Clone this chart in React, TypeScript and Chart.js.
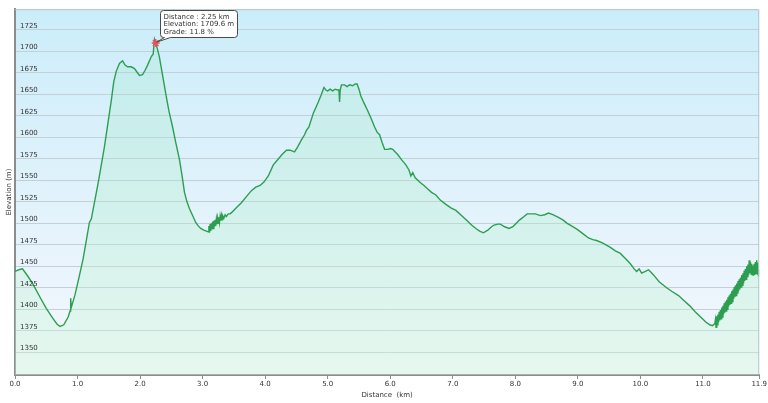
import React, { useEffect, useRef } from 'react';
import { Chart, registerables } from 'chart.js';

Chart.register(...registerables);

// Distance along the route (km)
const distances = [
  0.0, 0.06, 0.12, 0.2, 0.29, 0.4, 0.5, 0.6, 0.67, 0.72, 0.78, 0.85, 0.88, 0.89, 0.9, 0.96,
  1.02, 1.09, 1.19, 1.22, 1.33, 1.43, 1.54, 1.58, 1.62, 1.67, 1.72, 1.76, 1.8, 1.86, 1.91, 1.95,
  1.99, 2.04, 2.08, 2.12, 2.18, 2.21, 2.23, 2.25, 2.28, 2.31, 2.36, 2.41, 2.46, 2.52, 2.57, 2.63,
  2.67, 2.71, 2.75, 2.79, 2.84, 2.89, 2.93, 2.97, 3.02, 3.06,
  3.09, 3.1, 3.11, 3.12, 3.13, 3.14, 3.15, 3.16, 3.17, 3.18, 3.19, 3.2, 3.21, 3.22, 3.23, 3.24,
  3.25, 3.26, 3.27, 3.28, 3.29, 3.3, 3.31, 3.32, 3.34, 3.36, 3.38, 3.41, 3.44,
  3.47, 3.55, 3.62, 3.7, 3.78, 3.85,
  3.92, 3.98, 4.05, 4.13, 4.2, 4.27, 4.34, 4.4, 4.47, 4.52, 4.58, 4.63, 4.66, 4.7, 4.77, 4.85,
  4.9, 4.94, 4.97, 5.0, 5.04, 5.08, 5.12, 5.16, 5.18, 5.19, 5.2, 5.22, 5.27, 5.31, 5.35, 5.4,
  5.44, 5.47, 5.5, 5.53, 5.58, 5.64, 5.7, 5.75, 5.79, 5.83, 5.87, 5.91, 5.96, 6.0, 6.04, 6.08,
  6.12, 6.18, 6.25, 6.3, 6.33, 6.36, 6.4, 6.47, 6.54, 6.6, 6.66, 6.73, 6.8, 6.89, 6.97, 7.05,
  7.14, 7.23, 7.3, 7.37, 7.43, 7.49, 7.56, 7.62, 7.66, 7.72, 7.76, 7.83, 7.9, 7.96, 8.0, 8.07,
  8.14, 8.19, 8.24, 8.32, 8.4, 8.47, 8.53, 8.6, 8.69, 8.76, 8.83, 8.9, 8.99, 9.08, 9.17, 9.24,
  9.3, 9.4, 9.52, 9.6, 9.68, 9.76, 9.84, 9.9, 9.94, 9.98, 10.02, 10.08, 10.13, 10.17, 10.21, 10.3,
  10.42, 10.5, 10.61, 10.7, 10.79, 10.88, 10.98, 11.05, 11.11, 11.15, 11.19,
  11.2, 11.21, 11.22, 11.23, 11.24, 11.25, 11.26, 11.27, 11.28, 11.29, 11.3, 11.31, 11.32, 11.33, 11.34, 11.35,
  11.36, 11.37, 11.38, 11.39, 11.4, 11.41, 11.42, 11.43, 11.44, 11.45, 11.46, 11.47, 11.48, 11.49, 11.5, 11.51,
  11.52, 11.53, 11.54, 11.55, 11.56, 11.57, 11.58, 11.59, 11.6, 11.61, 11.62, 11.63, 11.64, 11.65, 11.66, 11.67,
  11.68, 11.69, 11.7, 11.71, 11.72, 11.73, 11.74, 11.75, 11.76, 11.77, 11.78, 11.79, 11.8, 11.81, 11.82, 11.83,
  11.84, 11.85, 11.86, 11.87, 11.88, 11.89, 11.9,
];

// Elevation (m)
const elevations = [
  1444, 1446, 1447, 1439, 1429, 1414, 1401, 1390, 1383, 1380, 1382, 1391, 1398, 1413, 1402, 1417,
  1436, 1459, 1501, 1505, 1547, 1589, 1643, 1665, 1677, 1686, 1689, 1684, 1682, 1682, 1680, 1676,
  1672, 1673, 1678, 1684, 1694, 1697, 1714, 1709.6, 1702, 1693, 1672, 1651, 1631, 1612, 1594, 1574,
  1556, 1536, 1525, 1517, 1509, 1501, 1497, 1494, 1492, 1491,
  1490, 1497, 1489, 1499, 1491, 1500, 1493, 1502, 1494, 1503, 1496, 1504, 1497, 1505, 1499, 1506,
  1500, 1507, 1501, 1508, 1503, 1509, 1504, 1509, 1506, 1510, 1508, 1511, 1511,
  1513, 1519, 1524, 1531, 1538, 1542,
  1544, 1548, 1555, 1568, 1574, 1580, 1585, 1585, 1583, 1589, 1597, 1603, 1608, 1612, 1628, 1641,
  1650, 1658, 1655, 1654, 1656, 1654, 1656, 1655, 1655, 1641, 1655, 1661, 1661, 1659, 1661, 1660,
  1662, 1662, 1656, 1648, 1640, 1631, 1621, 1612, 1606, 1603, 1594, 1586, 1586, 1587, 1586, 1583,
  1580, 1574, 1568, 1562, 1555, 1559, 1553, 1548, 1544, 1540, 1536, 1533, 1527, 1522, 1518, 1515,
  1509, 1503, 1498, 1494, 1491, 1489, 1492, 1496, 1498, 1499, 1499, 1496, 1494, 1496, 1499, 1504,
  1508, 1511, 1511, 1511, 1509, 1510, 1512, 1510, 1507, 1504, 1500, 1497, 1493, 1488, 1483, 1481,
  1480, 1477, 1472, 1468, 1465, 1459, 1453, 1447, 1444, 1447, 1442, 1444, 1446, 1443, 1440, 1432,
  1425, 1421, 1416, 1410, 1404, 1397, 1390, 1385, 1382, 1381, 1383,
  1388, 1379, 1392, 1382, 1394, 1385, 1397, 1387, 1399, 1389, 1402, 1391, 1404, 1394, 1407, 1396,
  1409, 1398, 1411, 1400, 1414, 1403, 1416, 1405, 1418, 1407, 1421, 1409, 1423, 1412, 1426, 1414,
  1428, 1416, 1430, 1419, 1433, 1421, 1435, 1423, 1437, 1426, 1440, 1428, 1442, 1430, 1445, 1433,
  1447, 1435, 1450, 1438, 1452, 1440, 1457, 1442, 1455, 1441, 1453, 1440, 1451, 1439, 1453, 1440,
  1455, 1442, 1457, 1441, 1454, 1438, 1446,
];

const xTickValues = [0, 1, 2, 3, 4, 5, 6, 7, 8, 9, 10, 11, 11.9];
const yTickValues = [1350, 1375, 1400, 1425, 1450, 1475, 1500, 1525, 1550, 1575, 1600, 1625, 1650, 1675, 1700, 1725];

const peakDistance = [2.25];
const peakElevation = [1709.6];
const tooltipLines = ['Distance : 2.25 km', 'Elevation: 1709.6 m', 'Grade: 11.8 %'];

const FONT = '"DejaVu Sans", Verdana, sans-serif';

const backgroundPlugin = {
  id: 'plotBackground',
  beforeDraw(chart: any) {
    const { ctx, chartArea } = chart;
    if (!chartArea) return;
    const { left, top, right, bottom } = chartArea;
    const g = ctx.createLinearGradient(0, top, 0, bottom);
    g.addColorStop(0, '#cbedfa');
    g.addColorStop(1, '#f6f7fd');
    ctx.save();
    ctx.fillStyle = g;
    ctx.fillRect(left, top, right - left, bottom - top);
    ctx.restore();
  },
  afterDraw(chart: any) {
    const { ctx, chartArea } = chart;
    const { left, top, right, bottom } = chartArea;
    ctx.save();
    ctx.strokeStyle = '#b4c6ce';
    ctx.lineWidth = 1;
    ctx.beginPath();
    ctx.moveTo(left, top + 0.5);
    ctx.lineTo(right - 0.5, top + 0.5);
    ctx.lineTo(right - 0.5, bottom);
    ctx.stroke();
    ctx.restore();
  },
};

const tooltipPlugin = {
  id: 'peakTooltip',
  afterDraw(chart: any) {
    const { ctx, scales } = chart;
    const px = scales.x.getPixelForValue(peakDistance[0]);
    const py = scales.y.getPixelForValue(peakElevation[0]);
    const bx = Math.round(px + 4) + 0.5;
    const by = Math.round(py - 33) + 0.5;
    const bw = 77;
    const bh = 27;
    const r = 3;
    ctx.save();
    ctx.beginPath();
    ctx.moveTo(bx + r, by);
    ctx.lineTo(bx + bw - r, by);
    ctx.quadraticCurveTo(bx + bw, by, bx + bw, by + r);
    ctx.lineTo(bx + bw, by + bh - r);
    ctx.quadraticCurveTo(bx + bw, by + bh, bx + bw - r, by + bh);
    ctx.lineTo(bx + 10, by + bh);
    ctx.lineTo(px + 1, py - 1);
    ctx.lineTo(bx + 4, by + bh);
    ctx.lineTo(bx + r, by + bh);
    ctx.quadraticCurveTo(bx, by + bh, bx, by + bh - r);
    ctx.lineTo(bx, by + r);
    ctx.quadraticCurveTo(bx, by, bx + r, by);
    ctx.closePath();
    ctx.fillStyle = '#ffffff';
    ctx.fill();
    ctx.strokeStyle = '#4a4a4a';
    ctx.lineWidth = 1;
    ctx.stroke();
    ctx.fillStyle = '#333333';
    ctx.font = '7px ' + FONT;
    ctx.textBaseline = 'middle';
    ctx.textAlign = 'left';
    tooltipLines.forEach((t, i) => {
      ctx.fillText(t, bx + 3, by + 6.5 + i * 7.4);
    });
    ctx.restore();
  },
};

export default function App() {
  const canvasRef = useRef<HTMLCanvasElement | null>(null);

  useEffect(() => {
    const canvas = canvasRef.current;
    if (!canvas) return;
    const points = distances.map((d, i) => ({ x: d, y: elevations[i] }));
    const peakPoints = peakDistance.map((d, i) => ({ x: d, y: peakElevation[i] }));

    const chart = new Chart(canvas, {
      type: 'line',
      data: {
        datasets: [
          {
            data: peakPoints,
            pointStyle: 'star',
            pointRadius: 4,
            pointBorderColor: '#ee4f5c',
            pointBorderWidth: 1.5,
            pointBackgroundColor: '#ee4f5c',
            showLine: false,
            fill: false,
          } as any,
          {
            data: points,
            borderColor: '#2c9e50',
            borderWidth: 1.4,
            pointRadius: 0,
            tension: 0,
            fill: 'start',
            backgroundColor: (c: any) => {
              const { chart: ch } = c;
              const area = ch.chartArea;
              if (!area) return 'rgba(140,230,170,0.2)';
              const g = ch.ctx.createLinearGradient(0, area.top, 0, area.bottom);
              g.addColorStop(0, 'rgba(130,225,175,0.16)');
              g.addColorStop(1, 'rgba(205,248,215,0.38)');
              return g;
            },
          },
        ],
      },
      options: {
        animation: false,
        responsive: false,
        events: [],
        layout: { padding: { top: 4, right: 5, left: 0, bottom: 0 } },
        plugins: {
          legend: { display: false },
          tooltip: { enabled: false },
          title: { display: false },
        },
        scales: {
          x: {
            type: 'linear',
            min: 0,
            max: 11.9,
            afterFit: (s: any) => { s.height = 28; },
            afterBuildTicks: (s: any) => { s.ticks = xTickValues.map((v) => ({ value: v })); },
            grid: { display: true, drawOnChartArea: false, drawTicks: true, tickLength: 4, color: '#8c8c8c' },
            border: { display: true, color: '#8c8c8c', width: 2 },
            ticks: {
              autoSkip: false,
              maxRotation: 0,
              padding: 1,
              color: '#333333',
              font: { family: FONT, size: 7 },
              callback: (v: any) => Number(v).toFixed(1),
            },
            title: {
              display: true,
              text: 'Distance  (km)',
              color: '#333333',
              font: { family: FONT, size: 7 },
              padding: { top: 0, bottom: 4 },
            },
          },
          y: {
            type: 'linear',
            min: 1323.6,
            max: 1749,
            afterFit: (s: any) => { s.width = 15; },
            afterBuildTicks: (s: any) => { s.ticks = yTickValues.map((v) => ({ value: v })); },
            grid: { color: '#c2d0d8', drawTicks: false, lineWidth: 1 },
            border: { display: true, color: '#8c8c8c', width: 2 },
            ticks: {
              z: 1,
              mirror: true,
              padding: 5,
              labelOffset: -4,
              color: '#333333',
              font: { family: FONT, size: 7 },
              callback: (v: any) => String(v),
            },
            title: {
              display: true,
              text: 'Elevation (m)',
              color: '#333333',
              font: { family: FONT, size: 7 },
              padding: { top: 5, bottom: 0 },
            },
          },
        },
      },
      plugins: [backgroundPlugin, tooltipPlugin],
    });

    return () => chart.destroy();
  }, []);

  return (
    <div style={{ position: 'fixed', left: 0, top: 0, width: 768, height: 403, background: '#ffffff' }}>
      <canvas ref={canvasRef} width={768} height={403} style={{ display: 'block', width: 768, height: 403 }} />
    </div>
  );
}
